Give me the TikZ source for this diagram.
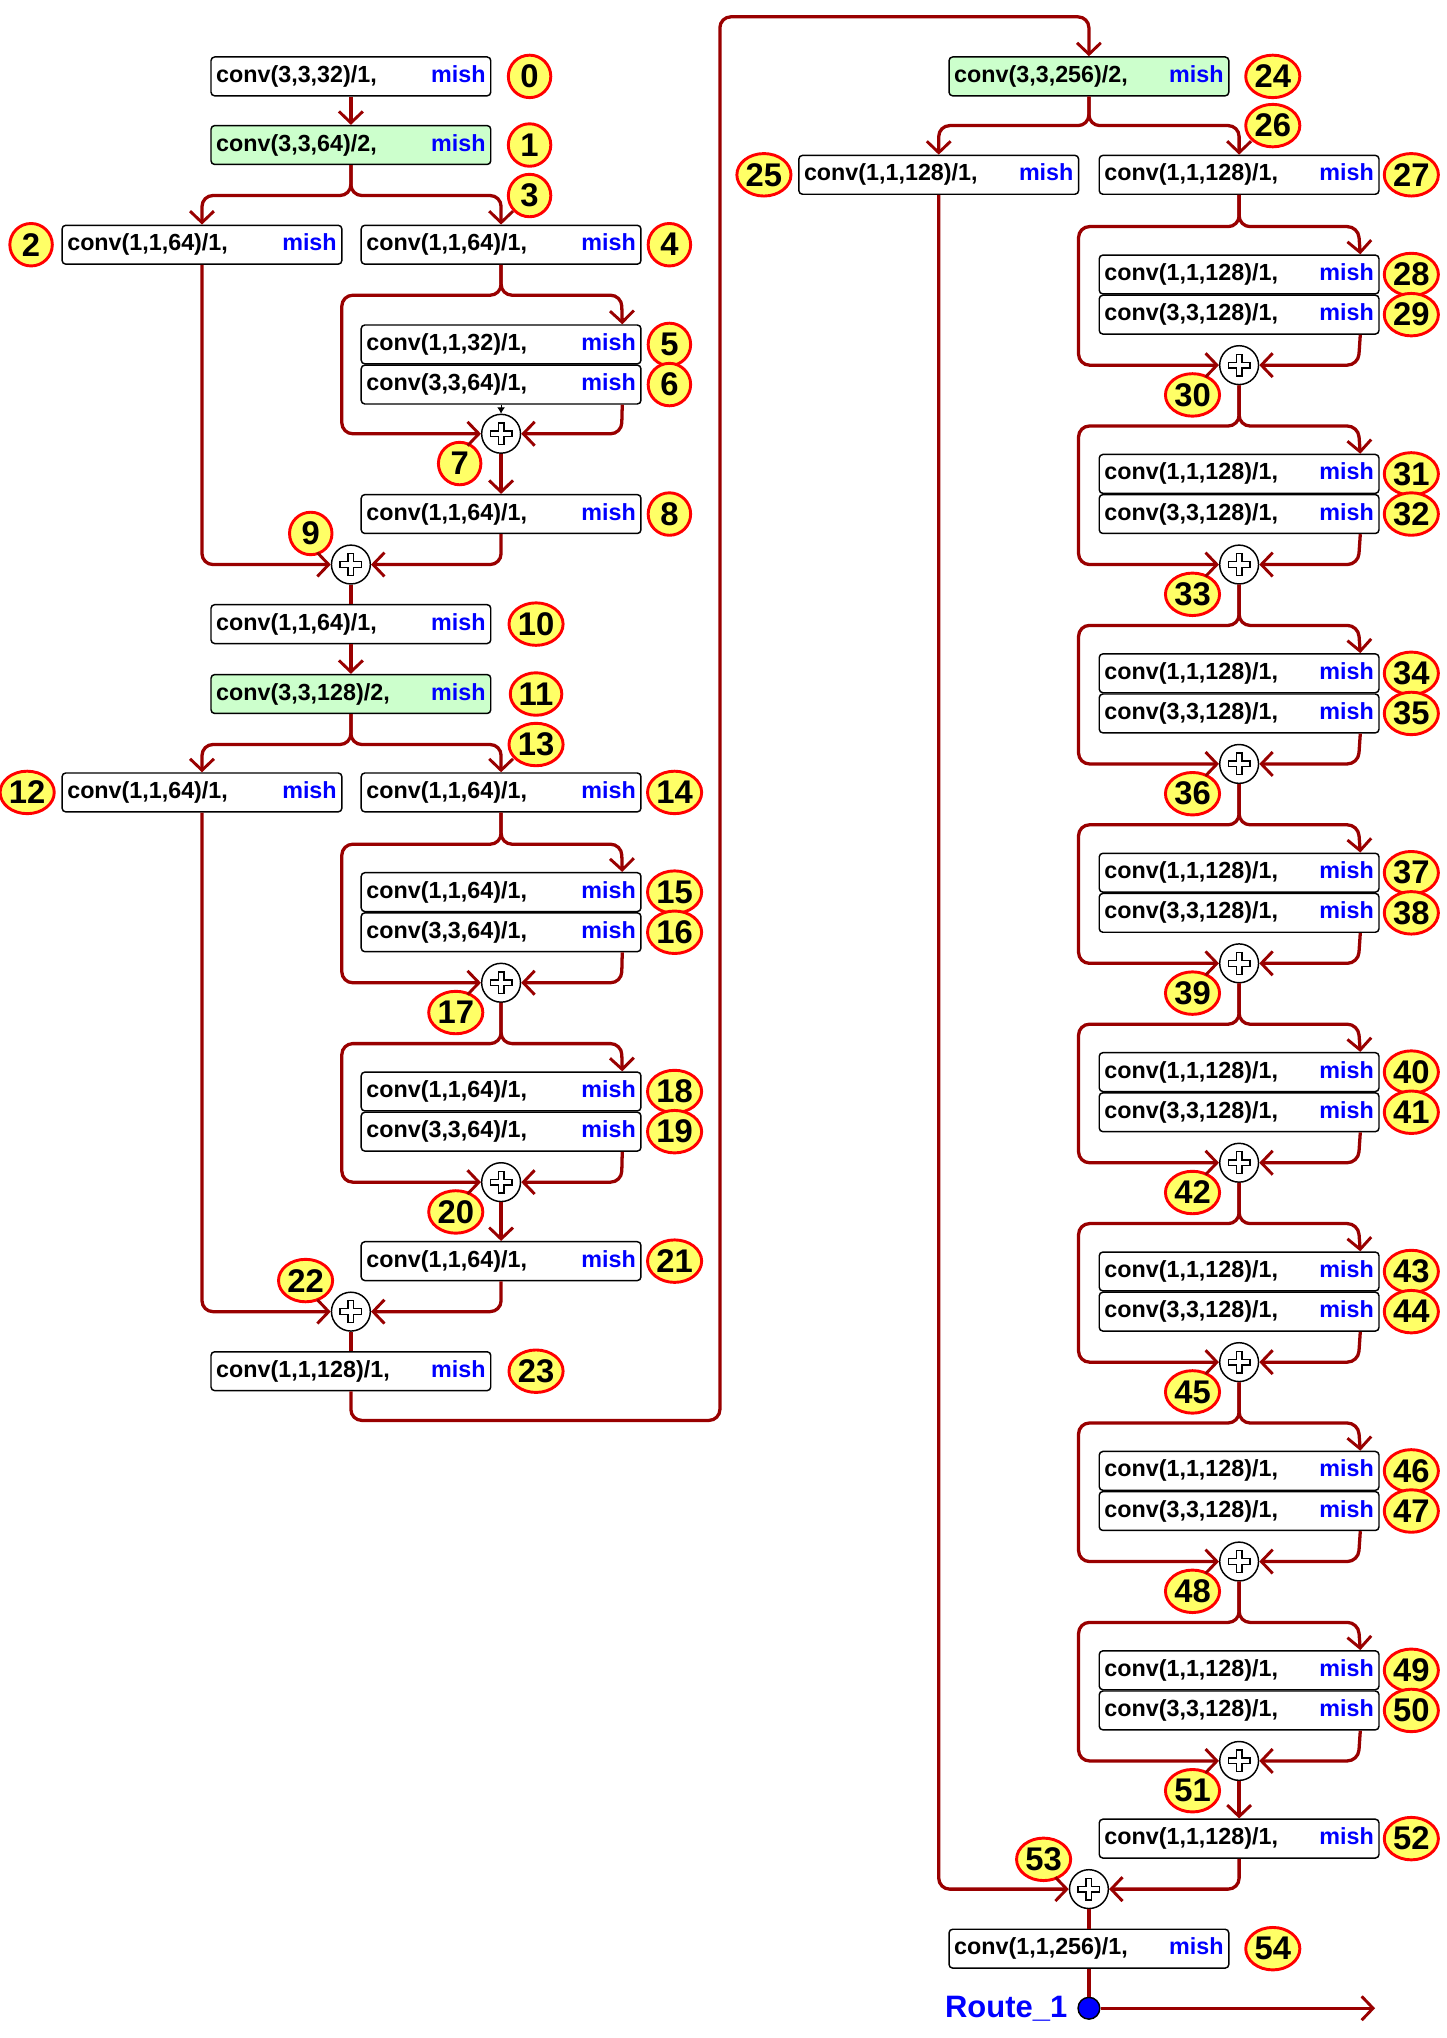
\documentclass[tikz,border=0pt]{standalone}
\usepackage{fontspec}
\setmainfont{Liberation Sans}
\usetikzlibrary{arrows.meta,calc,shapes.geometric,positioning}
\definecolor{dred}{RGB}{153,0,0}
\definecolor{lgreen}{RGB}{204,255,204}
\definecolor{lyellow}{RGB}{255,255,102}
\tikzset{
  box/.style={draw,rounded corners=2pt,line width=0.8pt,fill=white,minimum width=5.4cm,minimum height=0.75cm,
    inner sep=1.5pt,text width=5.2cm,font=\bfseries\fontsize{12.8}{14}\selectfont},
  gbox/.style={box,fill=lgreen},
  lab/.style={ellipse,draw=red,line width=1.6pt,fill=lyellow,minimum size=0.82cm,inner sep=0.5pt,font=\bfseries\fontsize{18}{19}\selectfont},
  add/.style={circle,draw,line width=0.8pt,fill=white,minimum size=0.75cm,inner sep=0pt},
  flow/.style={draw=dred,line width=1.8pt,rounded corners=6pt},
  tip/.style={-{Straight Barb[length=2.2mm,width=4.6mm,line width=1.6pt]}}
}
\newcommand{\cv}[1]{#1\hfill\textcolor{blue}{mish}\hspace*{0.25cm}}
\begin{document}
\begin{tikzpicture}[x=0.025cm,y=-0.025cm]
\useasboundingbox (0,0) rectangle (1117,1574);
% left column
\node[box] (b0) at (271,59) {\cv{conv(3,3,32)/1,}};
\node[gbox] (b1) at (271,112) {\cv{conv(3,3,64)/2,}};
\node[box] (b2) at (156,189) {\cv{conv(1,1,64)/1,}};
\node[box] (b4) at (387,189) {\cv{conv(1,1,64)/1,}};
\node[box] (b5) at (387,266) {\cv{conv(1,1,32)/1,}};
\node[box] (b6) at (387,297) {\cv{conv(3,3,64)/1,}};
\node[box] (b8) at (387,397) {\cv{conv(1,1,64)/1,}};
\node[box] (b10) at (271,482) {\cv{conv(1,1,64)/1,}};
\node[gbox] (b11) at (271,536) {\cv{conv(3,3,128)/2,}};
\node[box] (b12) at (156,612) {\cv{conv(1,1,64)/1,}};
\node[box] (b14) at (387,612) {\cv{conv(1,1,64)/1,}};
\node[box] (b15) at (387,689) {\cv{conv(1,1,64)/1,}};
\node[box] (b16) at (387,720) {\cv{conv(3,3,64)/1,}};
\node[box] (b18) at (387,843) {\cv{conv(1,1,64)/1,}};
\node[box] (b19) at (387,874) {\cv{conv(3,3,64)/1,}};
\node[box] (b21) at (387,974) {\cv{conv(1,1,64)/1,}};
\node[box] (b23) at (271,1059) {\cv{conv(1,1,128)/1,}};
% right column
\node[gbox] (b24) at (841,59) {\cv{conv(3,3,256)/2,}};
\node[box] (b25) at (725,135) {\cv{conv(1,1,128)/1,}};
\node[box] (b27) at (957,135) {\cv{conv(1,1,128)/1,}};
\node[box] (b52) at (957,1420) {\cv{conv(1,1,128)/1,}};
\node[box] (b54) at (841,1505) {\cv{conv(1,1,256)/1,}};
\node[add] (p7) at (387,335) {};
\node[add] (p9) at (271,436) {};
\node[add] (p17) at (387,759) {};
\node[add] (p20) at (387,913) {};
\node[add] (p22) at (271,1013) {};
\node[add] (p53) at (841,1459) {};
\foreach \k in {0,...,7}{
  \pgfmathtruncatemacro{\a}{28+3*\k}\pgfmathtruncatemacro{\b}{29+3*\k}\pgfmathtruncatemacro{\c}{30+3*\k}
  \pgfmathsetmacro{\p}{282+154*\k}
  \node[box] (b\a) at (957,\p-70) {\cv{conv(1,1,128)/1,}};
  \node[box] (b\b) at (957,\p-39) {\cv{conv(3,3,128)/1,}};
  \node[add] (p\c) at (957,\p) {};
  \node[lab] at (1090,\p-70) {\a};
  \node[lab] at (1090,\p-39) {\b};
  \node[lab] at (921,\p+23) {\c};
  \pgfmathtruncatemacro{\s}{27+3*\k}
  \ifnum\k=0 \def\src{b27}\else \def\src{p\s}\fi
  \draw[flow,tip] (\src.south) -- (957,\p-107) -- (1049,\p-107) -- ($(b\a.north east)+(-15,0)$);
  \draw[flow,tip] (\src.south) -- (957,\p-107) -- (833,\p-107) -- (833,\p) -- (p\c.west);
  \draw[flow,tip] ($(b\b.south east)+(-15,0)$) -- (1049,\p) -- (p\c.east);
}
\foreach \p in {p7,p9,p17,p20,p22,p53,p30,p33,p36,p39,p42,p45,p48,p51}
  \draw[line width=0.7pt,shift={(\p)},x=1cm,y=1cm] (-.21,.055)--(-.055,.055)--(-.055,.21)--(.055,.21)--(.055,.055)--(.21,.055)
    --(.21,-.055)--(.055,-.055)--(.055,-.21)--(-.055,-.21)--(-.055,-.055)--(-.21,-.055)--cycle;
% labels
\foreach \n/\x/\y in {0/409/59,1/409/112,2/24/189,3/409/151,4/517/189,5/517/266,6/517/297,7/355/358,8/517/397,
  9/240/412,10/414/482,11/414/536,12/21/612,13/414/575,14/521/612,15/521/689,16/521/720,17/352/782,18/521/843,
  19/521/874,20/352/936,21/521/974,22/236/989,23/414/1059,24/983/59,25/590/135,26/983/97,27/1090/135,
  52/1090/1420,53/806/1436,54/983/1505}
  \node[lab] at (\x,\y) {\n};
% connectors, left
\draw[flow,tip] (b0) -- (b1);
\draw[flow,tip] (b1.south) -- (271,151) -- (156,151) -- (b2.north);
\draw[flow,tip] (b1.south) -- (271,151) -- (387,151) -- (b4.north);
\draw[flow,tip] (b4.south) -- (387,228) -- (480,228) -- ($(b5.north east)+(-15,0)$);
\draw[flow,tip] (b4.south) -- (387,228) -- (264,228) -- (264,335) -- (p7.west);
\draw[flow,tip] ($(b6.south east)+(-15,0)$) -- (480,335) -- (p7.east);
\draw[-{Latex[length=1.2mm,width=1.5mm]},line width=0.5pt] (b6.south) -- (p7.north);
\draw[flow,tip] (p7) -- (b8);
\draw[flow,tip] (b2.south) -- (156,436) -- (p9.west);
\draw[flow,tip] (b8.south) -- (387,436) -- (p9.east);
\draw[flow] (p9) -- (b10);
\draw[flow,tip] (b10) -- (b11);
\draw[flow,tip] (b11.south) -- (271,575) -- (156,575) -- (b12.north);
\draw[flow,tip] (b11.south) -- (271,575) -- (387,575) -- (b14.north);
\draw[flow,tip] (b14.south) -- (387,652) -- (480,652) -- ($(b15.north east)+(-15,0)$);
\draw[flow,tip] (b14.south) -- (387,652) -- (264,652) -- (264,759) -- (p17.west);
\draw[flow,tip] ($(b16.south east)+(-15,0)$) -- (480,759) -- (p17.east);
\draw[flow,tip] (p17.south) -- (387,806) -- (480,806) -- ($(b18.north east)+(-15,0)$);
\draw[flow,tip] (p17.south) -- (387,806) -- (264,806) -- (264,913) -- (p20.west);
\draw[flow,tip] ($(b19.south east)+(-15,0)$) -- (480,913) -- (p20.east);
\draw[flow,tip] (p20) -- (b21);
\draw[flow,tip] (b12.south) -- (156,1013) -- (p22.west);
\draw[flow,tip] (b21.south) -- (387,1013) -- (p22.east);
\draw[flow] (p22) -- (b23);
\draw[flow,tip] (b23.south) -- (271,1097) -- (556,1097) -- (556,13) -- (841,13) -- (b24.north);
% connectors, right
\draw[flow,tip] (b24.south) -- (841,97) -- (725,97) -- (b25.north);
\draw[flow,tip] (b24.south) -- (841,97) -- (957,97) -- (b27.north);
\draw[flow,tip] (p51) -- (b52);
\draw[flow,tip] (b25.south) -- (725,1459) -- (p53.west);
\draw[flow,tip] (b52.south) -- (957,1459) -- (p53.east);
\draw[flow] (p53) -- (b54);
\node[circle,draw,fill=blue,minimum size=0.42cm,inner sep=0pt,line width=0.8pt] (r1) at (841,1551) {};
\node[left=2pt of r1,text=blue,font=\bfseries\fontsize{17}{18}\selectfont] {Route\_1};
\coordinate (out) at (1062,1551);
\draw[flow] (b54) -- (r1);
\draw[flow,tip] (r1) -- (out);
\end{tikzpicture}
\end{document}
